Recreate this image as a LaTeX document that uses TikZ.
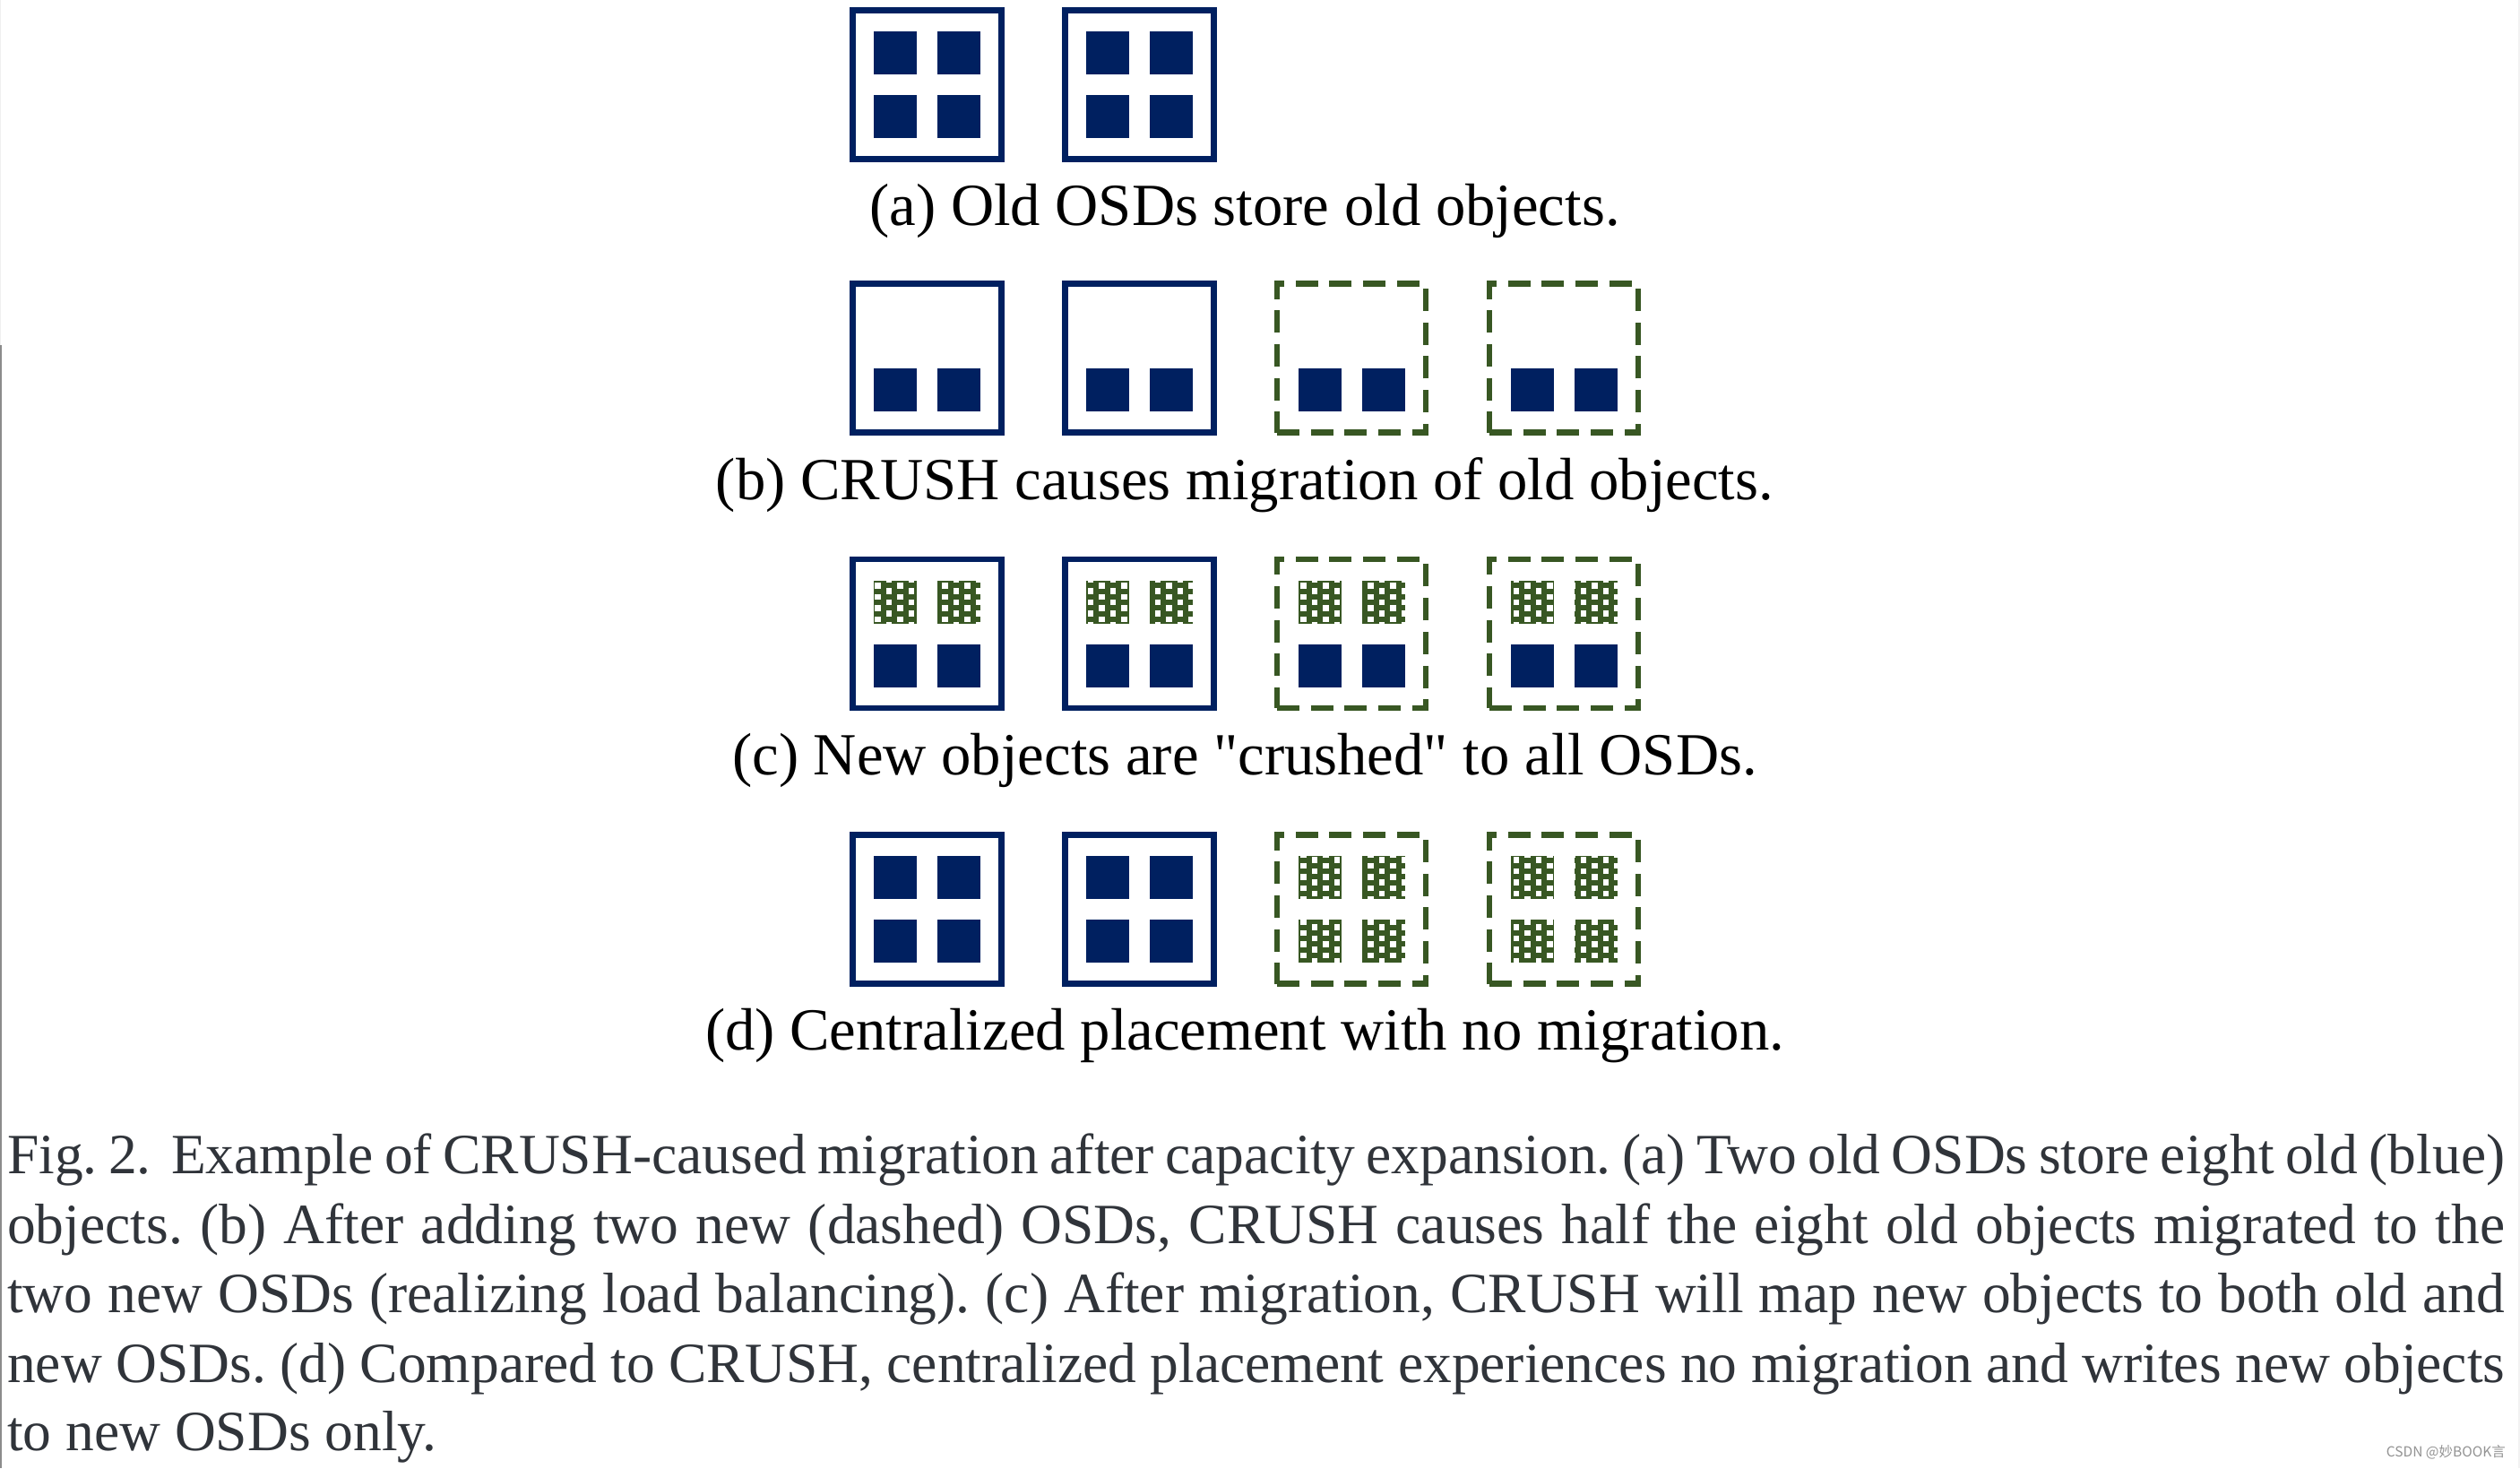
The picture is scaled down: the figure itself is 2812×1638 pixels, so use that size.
\documentclass[tikz,border=0pt]{standalone}
\usepackage{fontspec}
\setmainfont{Liberation Serif}
\newfontfamily\labelfont{Liberation Serif}
\newfontfamily\capfont{Liberation Serif}
\newfontfamily\wmfont{Noto Sans CJK SC}
\definecolor{navy}{HTML}{002060}
\definecolor{moss}{HTML}{385723}
\definecolor{captext}{HTML}{30343A}
\tikzset{
  x=1pt,y=-1pt,
  osdbox/.style={anchor=north west,minimum width=166pt,minimum height=166pt,inner sep=0pt,outer sep=0pt,line width=6.5pt},
  oldosd/.style={osdbox,draw=navy},
  newosd/.style={osdbox},
  newedge/.style={draw=moss,line width=6.7pt,dash pattern=on 25pt off 12.7pt,line join=miter},
  sublabel/.style={anchor=base,inner sep=0pt,font=\labelfont\fontsize{66.7}{70}\selectfont,text=black},
  capline/.style={anchor=base west,inner sep=0pt,font=\capfont\fontsize{63.5}{70}\selectfont\frenchspacing,text=captext},
}
\newcommand{\caplinetext}[1]{\makebox[2787pt][s]{#1}}
\newcommand{\dashedge}[1]{\draw[newedge] (#1.south west) -- (#1.south east) -- (#1.north east) -- (#1.north west) -- cycle;}
% blue object
\newcommand{\oldobj}[2]{\fill[navy] (#1,#2) rectangle ++(48,48);}
% green hatched object, with a pattern that is global to the page
\newcommand{\newobj}[2]{%
  \begin{scope}
    \clip (#1,#2) rectangle ++(48,48);
    \fill[moss] (#1,#2) rectangle ++(48,48);
    \pgfmathsetmacro{\cfirst}{int(floor((#1-979.3)/12.5))}
    \pgfmathsetmacro{\rfirst}{int(floor((#2-653.3)/12.5))-1}
    \foreach \ci in {0,...,5}{
      \foreach \rj in {0,...,6}{
        \pgfmathsetmacro{\cc}{int(\cfirst+\ci)}
        \pgfmathsetmacro{\hx}{979.3+12.5*\cc}
        \pgfmathsetmacro{\hy}{653.3+12.5*(\rfirst+\rj)+6.25*mod(abs(\cc),2)}
        \fill[white] (\hx-3.2,\hy-3.2) rectangle ++(6.4,6.4);
      }
    }
  \end{scope}}
\newcommand{\fourold}[2]{%
  \oldobj{#1+27}{#2+27}\oldobj{#1+98}{#2+27}\oldobj{#1+27}{#2+98}\oldobj{#1+98}{#2+98}}
\newcommand{\bottomold}[2]{\oldobj{#1+27}{#2+98}\oldobj{#1+98}{#2+98}}
\newcommand{\topnew}[2]{%
  \pgfmathsetmacro{\ax}{#1+27}\pgfmathsetmacro{\bx}{#1+98}\pgfmathsetmacro{\ty}{#2+27}%
  \edef\tmpa{\noexpand\newobj{\ax}{\ty}\noexpand\newobj{\bx}{\ty}}\tmpa}
\newcommand{\bottomnew}[2]{%
  \pgfmathsetmacro{\ax}{#1+27}\pgfmathsetmacro{\bx}{#1+98}\pgfmathsetmacro{\ty}{#2+98}%
  \edef\tmpa{\noexpand\newobj{\ax}{\ty}\noexpand\newobj{\bx}{\ty}}\tmpa}
\begin{document}
\begin{tikzpicture}
\useasboundingbox (0,0) rectangle (2812,1638);
\fill[white] (0,0) rectangle (2812,1638);
\fill[gray!12] (0,0) rectangle (1,385);
\fill[gray!90] (0,385) rectangle (1.6,1638);
\fill[gray!10] (2810,0) rectangle (2812,1638);

% row a
\node[oldosd] (a1) at (951.5,11.5) {}; \node[oldosd] (a2) at (1188.7,11.5) {};
\fourold{948}{8}\fourold{1185}{8}
\node[sublabel] (la) at (1389,251) {(a) Old OSDs store old objects.};

% row b
\node[oldosd] (b1) at (951.5,316.5) {}; \node[oldosd] (b2) at (1188.7,316.5) {};
\node[newosd] (b3) at (1425,316.5) {}; \node[newosd] (b4) at (1662,316.5) {};
\dashedge{b3}\dashedge{b4}
\bottomold{948}{313}\bottomold{1185}{313}\bottomold{1422}{313}\bottomold{1659}{313}
\node[sublabel] (lb) at (1389,557) {(b) CRUSH causes migration of old objects.};

% row c
\node[oldosd] (c1) at (951.5,624) {}; \node[oldosd] (c2) at (1188.7,624) {};
\node[newosd] (c3) at (1425,624) {}; \node[newosd] (c4) at (1662,624) {};
\dashedge{c3}\dashedge{c4}
\topnew{948}{621}\topnew{1185}{621}\topnew{1422}{621}\topnew{1659}{621}
\bottomold{948}{621}\bottomold{1185}{621}\bottomold{1422}{621}\bottomold{1659}{621}
\node[sublabel] (lc) at (1389,864) {(c) New objects are "crushed" to all OSDs.};

% row d
\node[oldosd] (d1) at (951.5,931.5) {}; \node[oldosd] (d2) at (1188.7,931.5) {};
\node[newosd] (d3) at (1425,931.5) {}; \node[newosd] (d4) at (1662,931.5) {};
\dashedge{d3}\dashedge{d4}
\fourold{948}{928}\fourold{1185}{928}
\topnew{1422}{928}\topnew{1659}{928}\bottomnew{1422}{928}\bottomnew{1659}{928}
\node[sublabel] (ld) at (1389,1171) {(d) Centralized placement with no migration.};

% caption
\node[capline] (cap1) at (8,1309) {\caplinetext{Fig. 2.\hspace{0.35em}Example of CRUSH-caused migration after capacity expansion. (a) Two old OSDs store eight old (blue)}};
\node[capline] (cap2) at (8,1387) {\caplinetext{objects. (b) After adding two new (dashed) OSDs, CRUSH causes half the eight old objects migrated to the}};
\node[capline] (cap3) at (8,1464) {\caplinetext{two new OSDs (realizing load balancing). (c) After migration, CRUSH will map new objects to both old and}};
\node[capline] (cap4) at (8,1542) {\caplinetext{new OSDs. (d) Compared to CRUSH, centralized placement experiences no migration and writes new objects}};
\node[capline] (cap5) at (8,1618) {to new OSDs only.};

% watermark
\node[anchor=base east,inner sep=0pt,text=gray!85,font=\wmfont\fontsize{15.5}{18}\selectfont] (wm) at (2796,1625) {CSDN @妙BOOK言};
\end{tikzpicture}
\end{document}
